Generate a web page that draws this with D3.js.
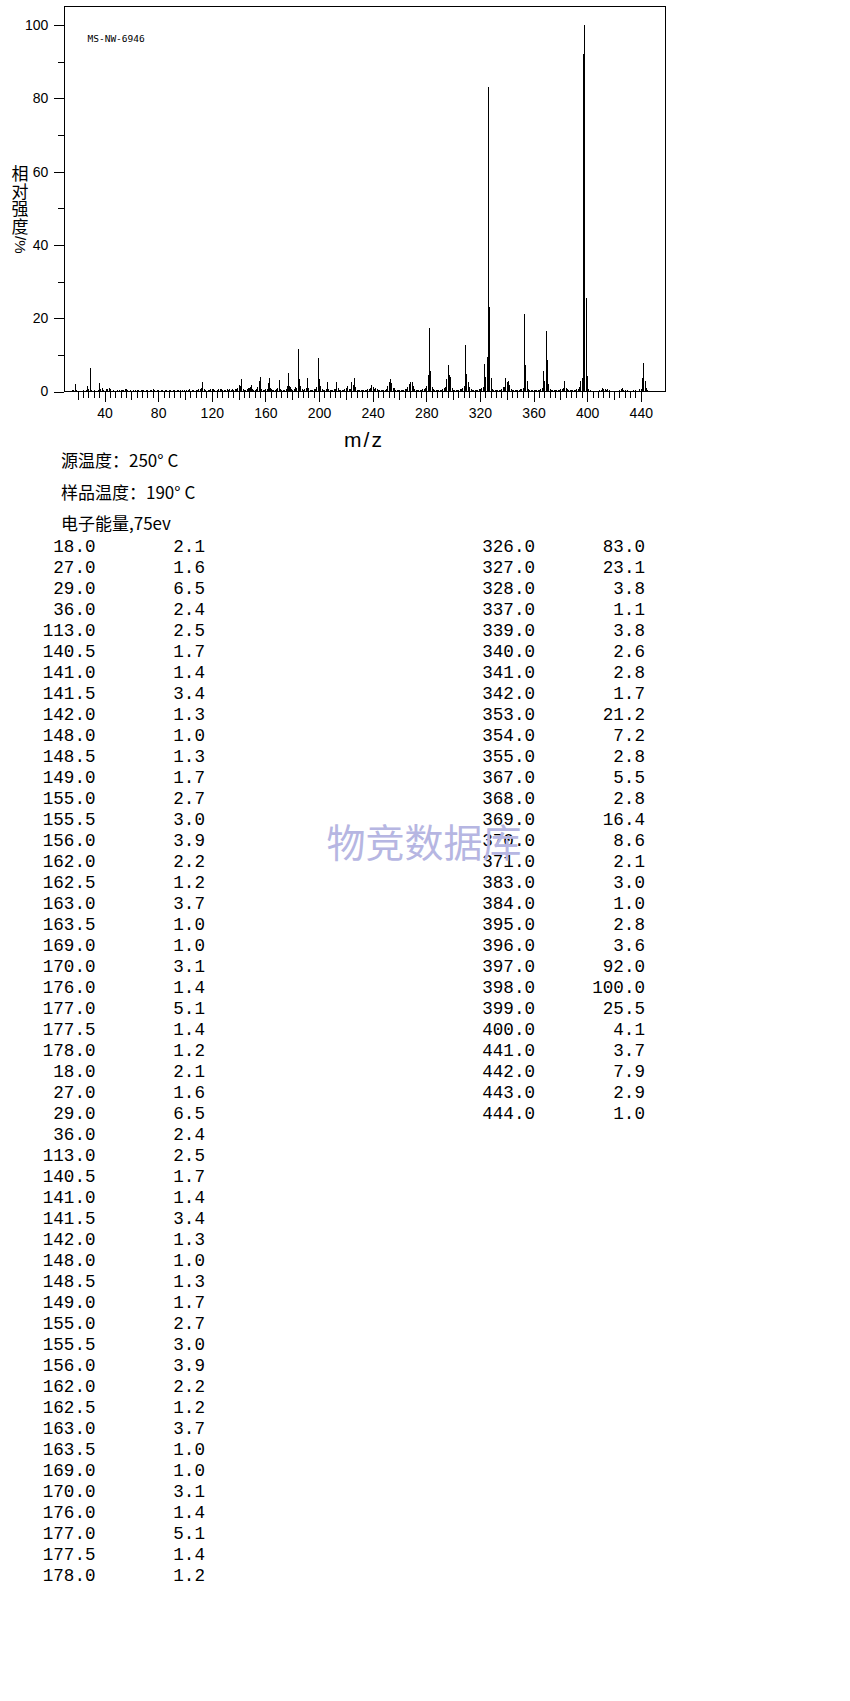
<!DOCTYPE html>
<html><head><meta charset="utf-8">
<script src="https://cdn.jsdelivr.net/npm/d3@7"></script>
<style>body{margin:0;background:#fff}svg{display:block}</style>
</head><body>
<svg id="c" width="850" height="1701"></svg>
<script>
// ---------- data ----------
const yMajorTicks = [0, 20, 40, 60, 80, 100];
const yMinorTicks = [10, 30, 50, 70, 90];
const xLabelTicks = [40, 80, 120, 160, 200, 240, 280, 320, 360, 400, 440];
const sampleId = "MS-NW-6946";
const infoLines = ["源温度：250° C", "样品温度：190° C", "电子能量,75ev"];
const watermark = "物竞数据库";

// table (left column, listed twice in the picture)
const leftMz  = [18.0, 27.0, 29.0, 36.0, 113.0, 140.5, 141.0, 141.5, 142.0, 148.0, 148.5, 149.0, 155.0, 155.5, 156.0, 162.0, 162.5, 163.0, 163.5, 169.0, 170.0, 176.0, 177.0, 177.5, 178.0];
const leftVal = [2.1, 1.6, 6.5, 2.4, 2.5, 1.7, 1.4, 3.4, 1.3, 1.0, 1.3, 1.7, 2.7, 3.0, 3.9, 2.2, 1.2, 3.7, 1.0, 1.0, 3.1, 1.4, 5.1, 1.4, 1.2];
// table (right column)
const rightMz  = [326.0, 327.0, 328.0, 337.0, 339.0, 340.0, 341.0, 342.0, 353.0, 354.0, 355.0, 367.0, 368.0, 369.0, 370.0, 371.0, 383.0, 384.0, 395.0, 396.0, 397.0, 398.0, 399.0, 400.0, 441.0, 442.0, 443.0, 444.0];
const rightVal = [83.0, 23.1, 3.8, 1.1, 3.8, 2.6, 2.8, 1.7, 21.2, 7.2, 2.8, 5.5, 2.8, 16.4, 8.6, 2.1, 3.0, 1.0, 2.8, 3.6, 92.0, 100.0, 25.5, 4.1, 3.7, 7.9, 2.9, 1.0];

// further peaks (not in the table)
const extraPeaks = [
 [15.5,0.5],[16.5,0.3],[19,0.4],[24,0.3],[26,0.5],[28,0.8],[30,0.5],[32,0.3],[35,0.4],[37,0.6],[38,1.0],[39,0.5],
 [41,0.8],[42,0.7],[43,0.9],[44,0.8],[46,0.3],[49,0.3],[51,0.4],[52,0.4],[53,0.5],[54,0.3],[55,0.6],[56,0.7],[57,0.5],
 [59,0.3],[61,0.4],[63,0.4],[64,0.3],[65,0.5],[67,0.4],[68,0.3],[69,0.4],[71,0.4],[72,0.3],[74,0.5],[75,0.4],[76,0.8],
 [77,0.5],[79,0.3],[80,0.4],[82,0.4],[83,0.3],[85,0.4],[86,0.5],[88,0.4],[89,0.4],[91,0.5],[92,0.3],[94,0.4],[95,0.5],
 [96,0.4],[98,0.4],[99,0.5],[101,0.4],[102,0.5],[103,0.6],[105,0.4],[106,0.5],[108,0.4],[109,0.5],[110,0.6],[111,0.7],
 [112,0.9],[114,0.6],[115,0.4],[117,0.4],[118,0.5],[119,0.6],[120,0.8],[121,0.6],[122,0.4],[124,0.5],[125,0.7],[126,0.8],
 [127,0.6],[128,0.4],[129,0.4],[130,0.5],[131,0.6],[132,0.5],[133,0.6],[134,0.5],[135,0.7],[136,0.5],[137,0.6],[138,0.8],
 [139,1.0],[140,1.1],[143,0.6],[144,0.5],[145,0.4],[146,0.6],[147,0.9],[150,0.7],[151,0.5],[152,0.4],[153,0.6],[154,1.2],
 [157,0.8],[158,0.5],[159,0.4],[160,0.6],[161,0.8],[164,0.6],[165,0.4],[166,0.5],[167,0.5],[168,0.7],[171,0.7],[172,0.5],
 [173,0.4],[174,0.5],[175,0.6],[179,0.6],[180,0.4],[181,0.6],[182,1.2],[183,1.0],[184,11.5],[185,3.5],[186,1.5],[187,0.6],
 [188,0.5],[189,0.6],[190,0.9],[191,3.8],[192,1.0],[193,0.5],[194,0.4],[195,0.5],[196,0.6],[197,0.8],[198,1.2],[199,9.1],
 [200,3.5],[201,1.4],[202,0.6],[203,0.5],[204,0.5],[205,0.7],[206,2.5],[207,0.8],[208,0.5],[209,0.4],[210,0.5],[211,0.6],
 [212,0.8],[213,2.5],[214,1.0],[215,0.5],[216,0.4],[217,0.5],[218,0.5],[219,0.6],[220,0.9],[221,1.6],[222,0.6],[223,0.8],
 [224,2.5],[225,1.9],[226,3.8],[227,1.2],[228,0.5],[229,0.4],[230,0.5],[231,0.4],[232,0.5],[233,0.5],[234,0.4],[235,0.5],
 [236,0.6],[237,0.8],[238,1.0],[239,1.9],[240,1.1],[241,0.6],[242,1.0],[243,0.6],[244,0.4],[245,0.5],[246,0.4],[247,0.5],
 [248,0.5],[249,0.4],[250,0.6],[251,1.4],[252,2.7],[253,3.4],[254,2.4],[255,1.0],[256,0.9],[257,0.5],[258,0.4],[259,0.5],
 [260,0.4],[261,0.5],[262,0.5],[263,0.4],[264,0.6],[265,0.8],[266,1.2],[267,2.1],[268,2.7],[269,2.5],[270,1.4],[271,0.6],
 [272,0.5],[273,0.4],[274,0.5],[275,0.4],[276,0.5],[277,0.6],[278,0.8],[279,1.0],[280,1.5],[281,4.4],[282,17.3],[283,5.5],
 [284,1.2],[285,0.6],[286,0.5],[287,0.4],[288,0.5],[289,0.5],[290,0.4],[291,0.5],[292,0.7],[293,1.0],[294,1.2],[295,3.3],
 [296,7.1],[297,4.4],[298,3.9],[299,1.0],[300,0.5],[301,0.4],[302,0.5],[303,0.4],[304,0.5],[305,0.6],[306,0.7],[307,0.9],
 [308,1.4],[309,12.6],[310,4.9],[311,2.7],[312,1.2],[313,0.6],[314,0.5],[315,0.4],[316,0.5],[317,0.4],[318,0.5],[319,0.6],
 [320,0.7],[321,1.0],[322,1.3],[323,7.4],[324,3.9],[325,9.5],[329,0.8],[330,0.5],[331,0.4],[332,0.5],[333,0.4],[334,0.5],
 [335,0.4],[336,0.6],[338,1.3],[343,0.7],[344,0.5],[345,0.4],[346,0.5],[347,0.4],[348,0.5],[349,0.5],[350,0.6],[351,0.8],
 [352,1.0],[356,0.8],[357,0.5],[358,0.4],[359,0.5],[360,0.4],[361,0.5],[362,0.4],[363,0.5],[364,0.5],[365,0.7],[366,0.9],
 [372,0.8],[373,0.5],[374,0.4],[375,0.5],[376,0.4],[377,0.5],[378,0.4],[379,0.5],[380,0.8],[381,0.6],[382,1.0],[385,0.6],
 [386,0.5],[387,0.4],[388,0.5],[389,0.4],[390,0.5],[391,0.5],[392,0.6],[393,0.8],[394,1.2],[401,0.6],[402,0.3],[409,0.4],
 [410,0.5],[411,1.0],[412,0.6],[413,0.8],[414,0.5],[415,0.7],[416,0.5],[424,0.5],[425,0.6],[426,0.9],[427,0.5],[428,0.4],
 [430,0.4],[434,0.4],[436,0.3],[439,0.6],[440,0.8],[445,0.4]
];

// ---------- drawing ----------
const svg = d3.select("#c");
svg.append("rect").attr("width", 850).attr("height", 1701).attr("fill", "#fff");

const x = d3.scaleLinear().domain([10, 458.6]).range([64.3, 665.7]);
const y = d3.scaleLinear().domain([0, 100]).range([391.5, 25]);

const peaks = leftMz.map((m, i) => [m, leftVal[i]])
  .concat(rightMz.map((m, i) => [m, rightVal[i]]))
  .concat(extraPeaks);

const plot = svg.append("g");

// peaks
plot.append("g").selectAll("line").data(peaks).join("line")
  .attr("x1", d => Math.round(x(d[0])) + 0.5).attr("x2", d => Math.round(x(d[0])) + 0.5)
  .attr("y1", y(0)).attr("y2", d => y(d[1]))
  .attr("stroke", "#000").attr("stroke-width", 1.2)
  .attr("shape-rendering", "crispEdges");

// frame
plot.append("rect")
  .attr("x", x(10)).attr("y", y(105))
  .attr("width", x(458.6) - x(10)).attr("height", y(0) - y(105))
  .attr("fill", "none").attr("stroke", "#000").attr("stroke-width", 1.3)
  .attr("shape-rendering", "crispEdges");

// y axis
const yAxisG = plot.append("g").attr("transform", `translate(${x(10)},0)`)
  .call(d3.axisLeft(y).tickValues(yMajorTicks).tickSize(10).tickPadding(6).tickFormat(d3.format("d")));
const yMinorG = plot.append("g").attr("transform", `translate(${x(10)},0)`)
  .call(d3.axisLeft(y).tickValues(yMinorTicks).tickSize(6).tickFormat(""));

// x axis ticks: every 4, medium at 20s, long at 40s
const allXTicks = d3.range(20, 441, 4);
const xShort = allXTicks.filter(v => v % 20 !== 0);
const xMed = allXTicks.filter(v => v % 20 === 0 && v % 40 !== 0);
plot.append("g").attr("transform", `translate(0,${y(0)})`)
  .call(d3.axisBottom(x).tickValues(xShort).tickSize(6).tickFormat(""));
plot.append("g").attr("transform", `translate(0,${y(0)})`)
  .call(d3.axisBottom(x).tickValues(xMed).tickSize(8).tickFormat(""));
plot.append("g").attr("transform", `translate(0,${y(0)})`)
  .call(d3.axisBottom(x).tickValues(xLabelTicks).tickSize(10).tickPadding(7).tickFormat(d3.format("d")));

plot.selectAll(".domain").remove();
plot.selectAll(".tick line").attr("stroke", "#000").attr("shape-rendering", "crispEdges");
plot.selectAll(".tick text").attr("font-family", "'Liberation Sans', Arial, sans-serif")
  .attr("font-size", 14).attr("fill", "#000");

// sample id
plot.append("text").attr("x", 87.5).attr("y", 41.5)
  .attr("font-family", "'DejaVu Sans Mono', monospace").attr("font-size", 9.5)
  .attr("fill", "#000").text(sampleId);

// axis titles
plot.append("text").attr("x", 364).attr("y", 446.5).attr("text-anchor", "middle")
  .attr("font-family", "'Liberation Sans', Arial, sans-serif").attr("font-size", 21)
  .attr("letter-spacing", 2).attr("fill", "#000").text("m/z");

const yTitleChars = ["相", "对", "强", "度"];
plot.append("g").selectAll("text").data(yTitleChars).join("text")
  .attr("x", 20).attr("y", (d, i) => 180 + i * 17.5).attr("text-anchor", "middle")
  .attr("font-family", "'Noto Sans CJK SC', sans-serif").attr("font-size", 17)
  .attr("fill", "#000").text(d => d);
plot.append("text").attr("transform", "translate(14.5,236) rotate(90)")
  .attr("font-family", "'Liberation Sans', Arial, sans-serif").attr("font-size", 15)
  .attr("fill", "#000").text("/%");

// info lines
svg.append("g").selectAll("text").data(infoLines).join("text")
  .attr("x", 61).attr("y", (d, i) => [467, 499, 530][i])
  .attr("font-family", "'Noto Sans CJK SC', sans-serif").attr("font-size", 17)
  .attr("fill", "#000").text(d => d);

// tables
const mono = "'Liberation Mono', 'Courier New', monospace";
const rowH = 21, row0 = 552;
const leftRows = leftMz.map((m, i) => [m, leftVal[i]]).concat(leftMz.map((m, i) => [m, leftVal[i]]));
const rightRows = rightMz.map((m, i) => [m, rightVal[i]]);

function drawTable(rows, xMz, xVal) {
  const g = svg.append("g").attr("font-family", mono).attr("font-size", 17.6)
    .attr("fill", "#000").attr("text-anchor", "end");
  g.selectAll("text.mz").data(rows).join("text").attr("class", "mz")
    .attr("x", xMz).attr("y", (d, i) => row0 + i * rowH).text(d => d[0].toFixed(1));
  g.selectAll("text.v").data(rows).join("text").attr("class", "v")
    .attr("x", xVal).attr("y", (d, i) => row0 + i * rowH).text(d => d[1].toFixed(1));
}
drawTable(leftRows, 95.5, 205);
drawTable(rightRows, 535, 645);

// watermark
svg.append("text").attr("x", 424).attr("y", 857).attr("text-anchor", "middle")
  .attr("font-family", "'Noto Sans CJK SC', sans-serif").attr("font-size", 39)
  .attr("fill", "#b6b6e2").text(watermark);
</script>
</body></html>
